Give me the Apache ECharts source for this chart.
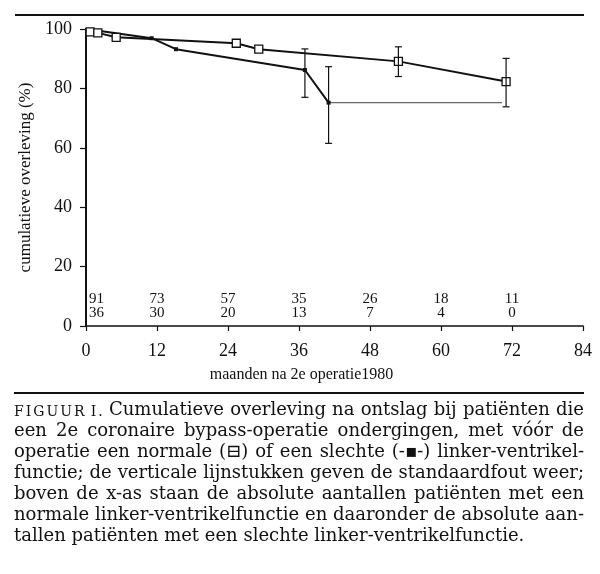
<!DOCTYPE html>
<html><head><meta charset="utf-8">
<script src="https://cdn.jsdelivr.net/npm/echarts@6/dist/echarts.min.js"></script>
<style>html,body{margin:0;padding:0;background:#fff}#c{width:600px;height:574px}</style>
</head><body><div id="c"></div>
<script>
// ---- data ----
const normalMonths = [0.7, 2.0, 5.1, 25.4, 29.2, 52.8, 71.0];
const normalSurv   = [99.0, 98.7, 97.2, 95.2, 93.2, 89.1, 82.3];
const poorMonths   = [0, 11.1, 15.2, 37.0, 41.0];
const poorSurv     = [100, 96.9, 93.2, 86.2, 75.2];
const poorTailMonths = [41.0, 70.3];
const poorTailSurv   = [75.2, 75.2];
const normalErrMonths = [52.8, 71.0];
const normalErrLow    = [84.0, 73.8];
const normalErrHigh   = [94.0, 90.1];
const poorErrMonths = [37.0, 41.0];
const poorErrLow    = [77.0, 61.5];
const poorErrHigh   = [93.3, 87.3];
const countMonths  = [0, 12, 24, 36, 48, 60, 72];
const normalCounts = [91, 73, 57, 35, 26, 18, 11];
const poorCounts   = [36, 30, 20, 13, 7, 4, 0];
const xTicks = [0, 12, 24, 36, 48, 60, 72, 84];
const yTicks = [0, 20, 40, 60, 80, 100];
const xTitle = 'maanden na 2e operatie1980';
const yTitle = 'cumulatieve overleving (%)';
const captionLines = [
  [{t:'FIGUUR', sc:true}, {t:'I.', sc:true}, 'Cumulatieve', 'overleving', 'na', 'ontslag', 'bij', 'patiënten', 'die'],
  'een 2e coronaire bypass-operatie ondergingen, met vóór de'.split(' '),
  'operatie een normale (⊟) of een slechte (-▪-) linker-ventrikel-'.split(' '),
  'functie; de verticale lijnstukken geven de standaardfout weer;'.split(' '),
  'boven de x-as staan de absolute aantallen patiënten met een'.split(' '),
  'normale linker-ventrikelfunctie en daaronder de absolute aan-'.split(' '),
  'tallen patiënten met een slechte linker-ventrikelfunctie.'.split(' ')
];

const FONT = "'Liberation Serif','Times New Roman',serif";
const CAPFONT = "'DejaVu Serif',serif";
const INK = '#111';

// ---- caption layout (justified) ----
const cv = document.createElement('canvas').getContext('2d');
function measure(t, size, fam){ cv.font = size + 'px ' + (fam || CAPFONT); return cv.measureText(t).width; }
const capLeft = 14, capRight = 584, capBase0 = 417, capStep = 21, capSize = 18, scSize = 14, scSpacing = 2;
const graphics = [];
captionLines.forEach((line, li) => {
  const toks = line.map(w => typeof w === 'string' ? {t:w} : w);
  let size = capSize;
  const wOf = (tk, s) => tk.sc ? (Array.from(tk.t).reduce((a,ch)=>a+measure(ch, scSize)+scSpacing,0) - scSpacing) : measure(tk.t, s);
  let widths = toks.map(tk => wOf(tk, size));
  let total = widths.reduce((a,b)=>a+b,0);
  const last = li === captionLines.length - 1;
  while (!last && (capRight - capLeft - total) / (toks.length - 1) < 3 && size > 14) {
    size -= 0.25; widths = toks.map(tk => wOf(tk, size)); total = widths.reduce((a,b)=>a+b,0);
  }
  const gap = last ? measure(' ', size) : (capRight - capLeft - total) / (toks.length - 1);
  let x = capLeft;
  const yMid = capBase0 + li * capStep - 6.2;
  toks.forEach((tk, i) => {
    if (tk.sc) {
      let xx = x;
      Array.from(tk.t).forEach(ch => {
        graphics.push({type:'text', x: xx, y: yMid + 1.3, style:{text: ch, font: scSize + 'px ' + CAPFONT, fill: INK, textVerticalAlign:'middle', textAlign:'left'}});
        xx += measure(ch, scSize) + scSpacing;
      });
    } else {
      graphics.push({type:'text', x: x, y: yMid, style:{text: tk.t, font: size + 'px ' + CAPFONT, fill: INK, textVerticalAlign:'middle', textAlign:'left'}});
    }
    x += widths[i] + gap;
  });
});
graphics.push({type:'line', shape:{x1:15, y1:15, x2:584, y2:15}, style:{stroke:INK, lineWidth:2}});
graphics.push({type:'line', shape:{x1:14, y1:393, x2:584, y2:393}, style:{stroke:INK, lineWidth:2}});

function errRender(params, api){
  const x = api.value(0), lo = api.value(1), hi = api.value(2);
  const a = api.coord([x, hi]), b = api.coord([x, lo]);
  const w = 3.5, st = {stroke: INK, lineWidth: 1.2};
  return {type:'group', children:[
    {type:'line', shape:{x1:a[0], y1:a[1], x2:b[0], y2:b[1]}, style:st},
    {type:'line', shape:{x1:a[0]-w, y1:a[1], x2:a[0]+w, y2:a[1]}, style:st},
    {type:'line', shape:{x1:b[0]-w, y1:b[1], x2:b[0]+w, y2:b[1]}, style:st}
  ]};
}
function countRender(params, api){
  const m = api.value(0), top = api.value(1), bot = api.value(2);
  const p = api.coord([m, 0]);
  const first = m === 0;
  const x = first ? p[0] + 3 : p[0];
  const align = first ? 'left' : 'center';
  const f = '15px ' + FONT;
  return {type:'group', children:[
    {type:'text', x:x, y:p[1]-26.5, style:{text:String(top), font:f, fill:INK, textAlign:align, textVerticalAlign:'middle'}},
    {type:'text', x:x, y:p[1]-12.5, style:{text:String(bot), font:f, fill:INK, textAlign:align, textVerticalAlign:'middle'}}
  ]};
}

const chart = echarts.init(document.getElementById('c'), null, {renderer:'canvas'});
chart.setOption({
  animation:false,
  backgroundColor:'#fff',
  grid:{left:86, right:17, top:29, bottom:248, containLabel:false},
  xAxis:{type:'value', min:xTicks[0], max:xTicks[xTicks.length-1], interval:12,
    name:xTitle, nameLocation:'middle', nameGap:41,
    nameTextStyle:{fontFamily:FONT, fontSize:16, color:INK, padding:[0,66,0,0]},
    axisLine:{show:true, onZero:false, lineStyle:{color:INK, width:1.5}},
    axisTick:{show:true, length:5, lineStyle:{color:INK, width:1.2}},
    axisLabel:{fontFamily:FONT, fontSize:18, color:INK, margin:16},
    splitLine:{show:false}},
  yAxis:{type:'value', min:yTicks[0], max:yTicks[yTicks.length-1], interval:20,
    name:yTitle, nameLocation:'middle', nameGap:52, nameRotate:90,
    nameTextStyle:{fontFamily:FONT, fontSize:17, color:INK},
    axisLine:{show:true, onZero:false, lineStyle:{color:INK, width:2}},
    axisTick:{show:true, length:6, lineStyle:{color:INK, width:1.2}},
    axisLabel:{fontFamily:FONT, fontSize:18, color:INK, margin:14},
    splitLine:{show:false}},
  graphic: graphics,
  series:[
    {type:'line', name:'slecht-tail', data: poorTailMonths.map((m,i)=>[m, poorTailSurv[i]]),
      symbol:'none', lineStyle:{color:'#666', width:1.2}, z:2},
    {type:'line', name:'slecht', data: poorMonths.map((m,i)=> i===0 ? {value:[m, poorSurv[i]], symbol:'none'} : [m, poorSurv[i]]),
      symbol:'rect', symbolSize:4, itemStyle:{color:INK}, lineStyle:{color:INK, width:2}, z:3},
    {type:'line', name:'normaal', data: normalMonths.map((m,i)=>[m, normalSurv[i]]),
      symbol:'rect', symbolSize:8, itemStyle:{color:'#fff', borderColor:INK, borderWidth:1.3},
      lineStyle:{color:INK, width:2}, z:4},
    {type:'custom', name:'fout-normaal', renderItem: errRender, z:5,
      data: normalErrMonths.map((m,i)=>[m, normalErrLow[i], normalErrHigh[i]])},
    {type:'custom', name:'fout-slecht', renderItem: errRender, z:5,
      data: poorErrMonths.map((m,i)=>[m, poorErrLow[i], poorErrHigh[i]])},
    {type:'custom', name:'aantallen', renderItem: countRender, z:6,
      data: countMonths.map((m,i)=>[m, normalCounts[i], poorCounts[i]])}
  ]
});
</script></body></html>
